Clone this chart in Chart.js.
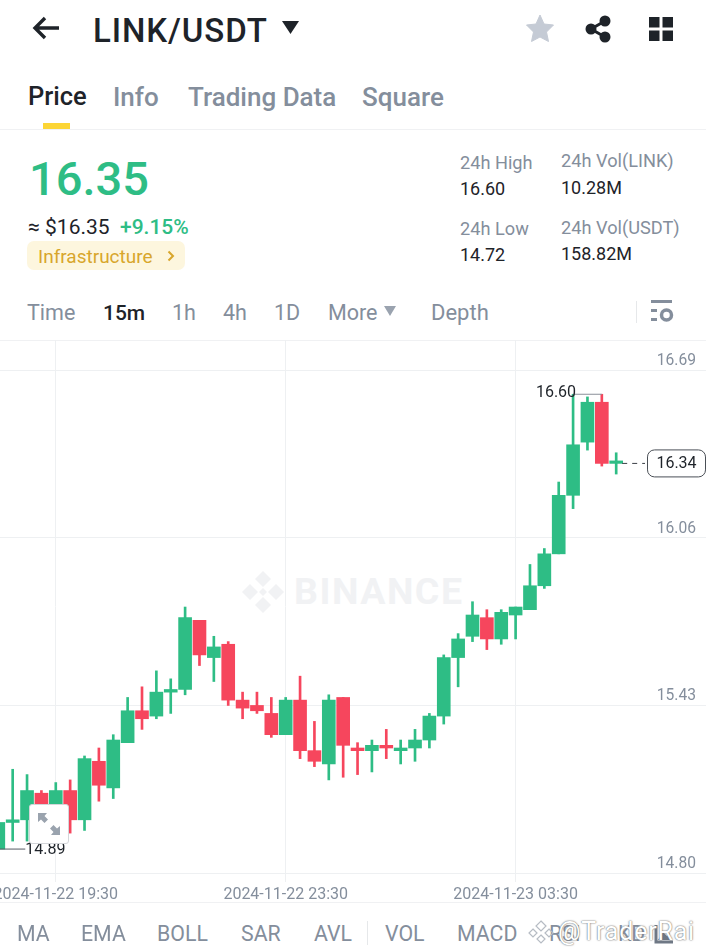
<!DOCTYPE html>
<html><head><meta charset="utf-8">
<script src="https://cdn.jsdelivr.net/npm/chart.js@4"></script>
<style>
html,body{margin:0;padding:0;background:#fff;width:706px;height:951px;overflow:hidden;font-family:Roboto,sans-serif}
.t{position:absolute;white-space:nowrap;line-height:1;transform:translateY(-50%)}
.g{color:#848e9c}.d{color:#1e2329}
.hr{position:absolute;left:0;width:706px;height:1px;background:#f0f1f3}
svg{position:absolute;overflow:visible}
canvas{position:absolute;left:0;top:340px}
</style></head><body>
<svg style="left:32px;top:16px" width="28" height="24"><path d="M27 12H3M13 2L3 12l10 10" fill="none" stroke="#1e2329" stroke-width="3.4"/></svg>
<div class="t d" style="left:93px;top:30px;font-size:33px;font-weight:500;letter-spacing:.9px">LINK/USDT</div>
<svg style="left:282px;top:21px" width="17" height="13"><path d="M0 0h17L8.500 13z" fill="#1e2329"/></svg>
<svg style="left:526px;top:14px" width="28" height="28"><path d="M14 1l4 9 9.500 1-7 7 2 9.500L14 23l-8.500 4.500 2-9.500-7-7L10 10z" fill="#c5cbd5" stroke="#c5cbd5" stroke-linejoin="round"/></svg>
<svg style="left:585px;top:15px" width="27" height="28"><path d="M20 6L6 14l14 8" fill="none" stroke="#1e2329" stroke-width="3"/><circle cx="20" cy="6" r="5.500" fill="#1e2329"/><circle cx="6" cy="14" r="5.500" fill="#1e2329"/><circle cx="20" cy="22" r="5.500" fill="#1e2329"/></svg>
<svg style="left:649px;top:17px" width="24" height="24"><path d="M0 0h10.500v10.500H0zM13.500 0H24v10.500H13.500zM0 13.500h10.500V24H0zM13.500 13.500H24V24H13.500z" fill="#1e2329"/></svg>

<div class="t d" style="left:28px;top:97px;font-size:25.500px;font-weight:500">Price</div>
<div class="t g" style="left:113px;top:97px;font-size:26px;font-weight:500">Info</div>
<div class="t g" style="left:188px;top:97px;font-size:26px;font-weight:500">Trading Data</div>
<div class="t g" style="left:362px;top:97px;font-size:26px;font-weight:500">Square</div>
<div style="position:absolute;left:43px;top:123px;width:27px;height:6px;background:#fcd535"></div>
<div class="hr" style="top:129px"></div>

<div class="t" style="left:29px;top:178px;font-size:47px;font-weight:500;color:#2ebd85">16.35</div>
<div class="t d" style="left:28px;top:227px;font-size:21px">≈ $16.35</div>
<div class="t" style="left:120px;top:227px;font-size:21px;font-weight:500;color:#2ebd85">+9.15%</div>
<div style="position:absolute;left:27px;top:241px;width:158px;height:29px;background:#fdf6de;border-radius:7px"></div>
<div class="t" style="left:38px;top:256px;font-size:19px;color:#d8a62c">Infrastructure</div>
<svg style="left:167px;top:250px" width="8" height="12"><path d="M1.500 1.500L6 6l-4.500 4.500" fill="none" stroke="#d8a62c" stroke-width="2"/></svg>

<div class="t g" style="left:460px;top:163px;font-size:18.200px">24h High</div>
<div class="t d" style="left:460px;top:189px;font-size:18px">16.60</div>
<div class="t g" style="left:561px;top:161px;font-size:18.200px">24h Vol(LINK)</div>
<div class="t d" style="left:561px;top:188px;font-size:18px">10.28M</div>
<div class="t g" style="left:460px;top:229px;font-size:18.200px">24h Low</div>
<div class="t d" style="left:460px;top:255px;font-size:18px">14.72</div>
<div class="t g" style="left:561px;top:228px;font-size:18.200px">24h Vol(USDT)</div>
<div class="t d" style="left:561px;top:254px;font-size:18px">158.82M</div>

<div class="t g" style="left:27px;top:313px;font-size:21.500px">Time</div>
<div class="t d" style="left:103px;top:313px;font-size:21px;font-weight:500">15m</div>
<div class="t g" style="left:172px;top:313px;font-size:21.500px">1h</div>
<div class="t g" style="left:223px;top:313px;font-size:21.500px">4h</div>
<div class="t g" style="left:274px;top:313px;font-size:21.500px">1D</div>
<div class="t g" style="left:328px;top:313px;font-size:21.500px">More</div>
<svg style="left:384px;top:306px" width="12" height="10"><path d="M0 0h12L6 10z" fill="#9aa3af"/></svg>
<div class="t g" style="left:431px;top:313px;font-size:22px">Depth</div>
<div style="position:absolute;left:636px;top:301px;width:1px;height:22px;background:#e6e8ea"></div>
<svg style="left:651px;top:300px" width="23" height="24"><path d="M0 0h21v3H0zM0 9h6v3H0zM0 18h6v3H0z" fill="#848e9c"/><circle cx="15.500" cy="15" r="5" fill="none" stroke="#848e9c" stroke-width="3.500"/></svg>
<div class="hr" style="top:340px"></div>

<svg style="left:241px;top:570px" width="44" height="44"><path d="M22 1l8 8-8 8-8-8zM9 14l8 8-8 8-8-8zM35 14l8 8-8 8-8-8zM22 27l8 8-8 8-8-8zM22 18l4 4-4 4-4-4z" fill="#f1f2f4"/></svg>
<div class="t" style="left:294px;top:592px;font-size:37.500px;font-weight:700;letter-spacing:1.500px;color:#f1f2f4">BINANCE</div>

<canvas id="c" width="706" height="562" style="width:706px;height:562px"></canvas>

<div style="position:absolute;left:29px;top:804px;width:38px;height:38px;background:#fff;border:1px solid #d4d6da;border-radius:3px"></div>
<svg style="left:38px;top:813px" width="22" height="22"><path d="M0 0h9L6.500 3 10 6.500 6.500 10 3 6.500 0 9zM22 22h-9l2.500-3-3.500-3.500 3.500-3.500 3.500 3.500L22 13z" fill="#9aa3ae"/></svg>

<div class="hr" style="top:902px"></div>
<div class="t g" style="left:17px;top:934px;font-size:21.300px">MA</div>
<div class="t g" style="left:81px;top:934px;font-size:21.300px">EMA</div>
<div class="t g" style="left:157px;top:934px;font-size:21.300px">BOLL</div>
<div class="t g" style="left:241px;top:934px;font-size:21.300px">SAR</div>
<div class="t g" style="left:314px;top:934px;font-size:21.300px">AVL</div>
<div style="position:absolute;left:367px;top:921px;width:1px;height:24px;background:#e6e8ea"></div>
<div class="t g" style="left:385px;top:934px;font-size:21.300px">VOL</div>
<div class="t g" style="left:457px;top:934px;font-size:21.300px">MACD</div>
<div class="t g" style="left:549px;top:934px;font-size:21.300px">RSI</div>
<div class="t g" style="left:618px;top:934px;font-size:21.300px">KD</div>
<svg style="left:654px;top:925px" width="19" height="20"><path d="M2 0v17h17" fill="none" stroke="#6f7885" stroke-width="3"/><path d="M4 15l5-8 4 4 3-3v7z" fill="#6f7885"/></svg>
<svg style="left:528px;top:920px" width="26" height="24"><path d="M13 1l5 5-5 5-5-5zM5 9l4 4-4 4-4-4zM21 9l4 4-4 4-4-4zM13 15l4 4-4 4-4-4z" fill="none" stroke="#b6bcc4" stroke-width="1.200"/></svg>
<div class="t" style="left:558px;top:931px;font-size:25px;letter-spacing:.8px;color:#fff;text-shadow:0 0 2px #777,0 0 1px #777">@TraderRai</div>

<script>
const opens=[14.89,14.99,15.00,15.10,15.00,15.11,15.00,15.22,15.12,15.29,15.41,15.39,15.48,15.49,15.75,15.61,15.66,15.45,15.43,15.40,15.32,15.45,15.26,15.21,15.46,15.27,15.26,15.28,15.26,15.27,15.30,15.39,15.61,15.69,15.76,15.68,15.77,15.79,15.88,16.00,16.22,16.42,16.57,16.34];
const closes=[14.99,15.00,15.11,15.00,15.11,15.00,15.23,15.13,15.30,15.41,15.38,15.48,15.49,15.76,15.62,15.65,15.45,15.42,15.41,15.32,15.45,15.26,15.22,15.45,15.28,15.26,15.28,15.27,15.27,15.30,15.39,15.61,15.68,15.77,15.68,15.78,15.80,15.88,16.00,16.22,16.41,16.57,16.34,16.345];
const highs=[14.99,15.19,15.17,15.11,15.14,15.15,15.24,15.27,15.32,15.46,15.50,15.56,15.53,15.80,15.75,15.69,15.67,15.48,15.48,15.46,15.46,15.54,15.37,15.47,15.46,15.29,15.30,15.34,15.30,15.34,15.40,15.62,15.70,15.82,15.79,15.79,15.80,15.96,16.02,16.27,16.60,16.59,16.60,16.38];
const lows=[14.89,14.92,14.92,14.99,14.97,14.95,14.96,15.07,15.08,15.29,15.34,15.38,15.40,15.47,15.58,15.52,15.43,15.38,15.40,15.31,15.32,15.23,15.20,15.15,15.16,15.17,15.18,15.23,15.21,15.22,15.27,15.36,15.50,15.67,15.64,15.66,15.68,15.79,15.87,16.00,16.17,16.39,16.33,16.30];
const yTicks=[14.80,15.43,16.06,16.69];
const xTickIndex=[4,20,36];
const xTickLabels=["2024-11-22 19:30","2024-11-22 23:30","2024-11-23 03:30"];
const highMark=16.60, lowMark=14.89, lastPrice=16.34;

const GREEN="#2ebd85", RED="#f6465d";
const colors=opens.map((o,i)=>closes[i]>=o?GREEN:RED);

const marks={id:"marks",afterDatasetsDraw(ch){
  const g=ch.ctx,x=ch.scales.x,y=ch.scales.y;
  g.save();
  g.font="16px Roboto";g.textBaseline="middle";
  // 24h high marker
  const yh=y.getPixelForValue(highMark),hi=highs.indexOf(highMark),hj=highs.lastIndexOf(highMark);
  g.strokeStyle="#8a9099";g.lineWidth=1;
  g.beginPath();g.moveTo(x.getPixelForValue(hi),yh);g.lineTo(x.getPixelForValue(hj),yh);g.stroke();
  g.fillStyle="#1e2329";g.textAlign="right";g.fillText(highMark.toFixed(2),x.getPixelForValue(hi)+3,yh-1);
  // visible low marker
  const yl=y.getPixelForValue(lowMark),lx=x.getPixelForValue(0);
  g.strokeStyle="#555b63";g.beginPath();g.moveTo(lx,yl);g.lineTo(lx+27,yl);g.stroke();
  g.textAlign="left";g.fillText(lowMark.toFixed(2),lx+27,yl+1);
  // last price tag
  const yp=y.getPixelForValue(lastPrice),lastX=x.getPixelForValue(opens.length-1);
  g.strokeStyle="#3a3f46";g.setLineDash([5,5]);g.beginPath();g.moveTo(lastX+6,yp);g.lineTo(645,yp);g.stroke();g.setLineDash([]);
  g.beginPath();g.roundRect(647.500,yp-13.500,58,27,7);g.fillStyle="#fff";g.fill();g.strokeStyle="#4a4f56";g.stroke();
  g.fillStyle="#1e2329";g.textAlign="center";g.fillText(lastPrice.toFixed(2),676.500,yp+1);
  g.restore();
}};

new Chart(document.getElementById("c"),{
  type:"bar",
  data:{datasets:[
    {label:"Body",data:opens.map((o,i)=>({x:i,y:[o,closes[i]]})),backgroundColor:colors,barThickness:13,minBarLength:2.500,borderWidth:0,grouped:false,order:1},
    {label:"Wick",data:lows.map((l,i)=>({x:i,y:[l,highs[i]]})),backgroundColor:colors,barThickness:2,borderWidth:0,grouped:false,order:2}
  ]},
  options:{
    responsive:false,animation:false,devicePixelRatio:1,
    layout:{padding:0},
    plugins:{legend:{display:false},tooltip:{enabled:false}},
    scales:{
      x:{type:"linear",min:0.118,max:49.25,offset:false,
        grid:{color:"#eef0f2",tickLength:9,drawOnChartArea:true,offset:false},border:{display:false},
        afterBuildTicks(s){s.ticks=xTickIndex.map(v=>({value:v}))},
        afterFit(s){s.height=29;s.paddingLeft=0;s.paddingRight=0},
        ticks:{autoSkip:false,maxRotation:0,padding:3,color:"#848e9c",font:{family:"Roboto",size:16},
          callback(v){return xTickLabels[xTickIndex.indexOf(v)]}}},
      y:{type:"linear",position:"right",min:14.80,max:16.804,
        grid:{color:"#eef0f2",tickLength:0},border:{display:false},
        afterBuildTicks(s){s.ticks=yTicks.map(v=>({value:v}))},
        afterFit(s){s.width=0;s.paddingTop=0;s.paddingBottom=0},
        ticks:{mirror:true,padding:-10,labelOffset:-9,color:"#848e9c",font:{family:"Roboto",size:15.6},
          callback(v){return v.toFixed(2)}}}
    }
  },
  plugins:[marks]
});
</script>
</body></html>
